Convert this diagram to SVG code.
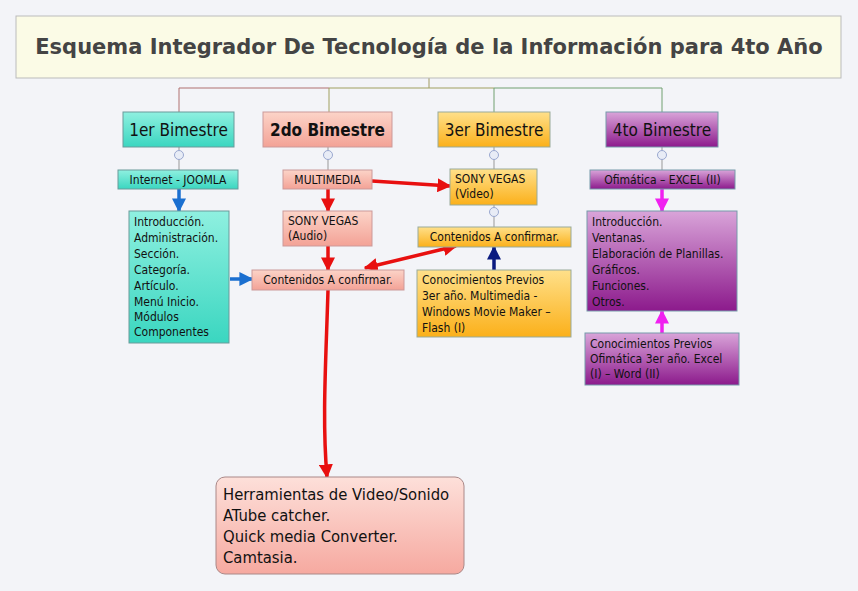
<svg xmlns="http://www.w3.org/2000/svg" width="858" height="591" viewBox="0 0 858 591">
<defs>
<style>
text{font-family:"DejaVu Sans Condensed","DejaVu Sans",sans-serif;font-size:12px;fill:#111}
.bim{font-size:17px}
.tl{fill:none;stroke-width:1}
.ar{fill:none;stroke-width:3.5}
.cc{fill:#e8ecf6;stroke:#9aa8d0;stroke-width:1}
</style>
<linearGradient id="gc" x1="0" y1="0" x2="0" y2="1"><stop offset="0" stop-color="#8ff0e0"/><stop offset="1" stop-color="#3ad6c0"/></linearGradient>
<linearGradient id="gr" x1="0" y1="0" x2="0" y2="1"><stop offset="0" stop-color="#fcd4c8"/><stop offset="1" stop-color="#f3a296"/></linearGradient>
<linearGradient id="go" x1="0" y1="0" x2="0" y2="1"><stop offset="0" stop-color="#ffe08a"/><stop offset="1" stop-color="#fbb01a"/></linearGradient>
<linearGradient id="gp" x1="0" y1="0" x2="0" y2="1"><stop offset="0" stop-color="#d9a4d9"/><stop offset="1" stop-color="#8c1a8c"/></linearGradient>
<linearGradient id="gh" x1="0" y1="0" x2="0" y2="1"><stop offset="0" stop-color="#fde0da"/><stop offset="1" stop-color="#f6a9a0"/></linearGradient>
<marker id="mr" viewBox="0 0 10 10" refX="9" refY="5" markerWidth="4" markerHeight="4" orient="auto-start-reverse"><path d="M0,0L10,5L0,10z" fill="#e81010"/></marker>
<marker id="mb" viewBox="0 0 10 10" refX="9" refY="5" markerWidth="4" markerHeight="4" orient="auto"><path d="M0,0L10,5L0,10z" fill="#1a6fd0"/></marker>
<marker id="mn" viewBox="0 0 10 10" refX="9" refY="5" markerWidth="4" markerHeight="4" orient="auto"><path d="M0,0L10,5L0,10z" fill="#0a1a80"/></marker>
<marker id="mm" viewBox="0 0 10 10" refX="9" refY="5" markerWidth="4" markerHeight="4" orient="auto"><path d="M0,0L10,5L0,10z" fill="#f020f0"/></marker>
</defs>
<rect width="858" height="591" fill="#f3f4f8"/>
<g id="connectors">
<path class="tl" stroke="#a09a60" d="M429,78V88"/>
<path class="tl" stroke="#b07070" d="M179,112V88H329"/>
<path class="tl" stroke="#a0a060" d="M329,112V88H494"/>
<path class="tl" stroke="#70a070" d="M494,112V88H662V112"/>
<path class="tl" stroke="#999" d="M179,147V170M328,147V170M494,147V169M494,205V227M662,147V170"/>
<circle class="cc" cx="179" cy="155" r="4.5"/><circle class="cc" cx="328" cy="155" r="4.5"/><circle class="cc" cx="494" cy="155" r="4.5"/><circle class="cc" cx="662" cy="155" r="4.5"/><circle class="cc" cx="494" cy="212" r="4.5"/>
<path class="ar" stroke="#1a6fd0" marker-end="url(#mb)" d="M179,189V211"/>
<path class="ar" stroke="#1a6fd0" marker-end="url(#mb)" d="M230,279H252"/>
<path class="ar" stroke="#e81010" marker-end="url(#mr)" d="M328,189V211"/>
<path class="ar" stroke="#e81010" marker-end="url(#mr)" d="M328,246V270"/>
<path class="ar" stroke="#e81010" marker-end="url(#mr)" d="M372,181L450,186"/>
<path class="ar" stroke="#e81010" marker-start="url(#mr)" marker-end="url(#mr)" d="M365,268L456,246"/>
<path class="ar" stroke="#e81010" marker-end="url(#mr)" d="M328,290C326,360 322,420 327,477"/>
<path class="ar" stroke="#0a1a80" marker-end="url(#mn)" d="M494,270V247"/>
<path class="ar" stroke="#f020f0" marker-end="url(#mm)" d="M662,189V211"/>
<path class="ar" stroke="#f020f0" marker-end="url(#mm)" d="M662,333V311"/>
</g>
<g id="title"><rect x="16" y="16" width="825" height="62" fill="#fbfbe6" stroke="#bbb"/><text x="429" y="54" text-anchor="middle" style="font-family:'DejaVu Sans',sans-serif;font-size:21px;font-weight:bold;fill:#444">Esquema Integrador De Tecnología de la Información para 4to Año</text></g>
<g id="b1"><rect x="123" y="112" width="111" height="35" fill="url(#gc)" stroke="#6a9a9a"/><text class="bim" x="178.5" y="136" text-anchor="middle">1er Bimestre</text></g>
<g id="b2"><rect x="263" y="112" width="129" height="35" fill="url(#gr)" stroke="#c99"/><text class="bim" x="327.5" y="136" text-anchor="middle" font-weight="bold">2do Bimestre</text></g>
<g id="b3"><rect x="438" y="112" width="112" height="35" fill="url(#go)" stroke="#9a9"/><text class="bim" x="494" y="136" text-anchor="middle">3er Bimestre</text></g>
<g id="b4"><rect x="606" y="112" width="112" height="35" fill="url(#gp)" stroke="#79a"/><text class="bim" x="662" y="136" text-anchor="middle">4to Bimestre</text></g>
<g id="joomla"><rect x="118" y="170" width="120" height="19" fill="url(#gc)" stroke="#6a9a9a"/><text x="178" y="184" text-anchor="middle">Internet - JOOMLA</text></g>
<g id="j1"><rect x="129" y="211" width="100" height="132" fill="url(#gc)" stroke="#6a9a9a"/><text x="134" y="226">Introducción.<tspan x="134" dy="16">Administración.</tspan><tspan x="134" dy="16">Sección.</tspan><tspan x="134" dy="16">Categoría.</tspan><tspan x="134" dy="16">Artículo.</tspan><tspan x="134" dy="16">Menú Inicio.</tspan><tspan x="134" dy="15">Módulos</tspan><tspan x="134" dy="15">Componentes</tspan></text></g>
<g id="multi"><rect x="283" y="170" width="89" height="19" fill="url(#gr)" stroke="#c99"/><text x="327.5" y="184" text-anchor="middle">MULTIMEDIA</text></g>
<g id="sva"><rect x="283" y="211" width="89" height="35" fill="url(#gr)" stroke="#c99"/><text x="288" y="225">SONY VEGAS<tspan x="288" dy="15">(Audio)</tspan></text></g>
<g id="c2"><rect x="252" y="270" width="152" height="20" fill="url(#gr)" stroke="#c99"/><text x="328" y="284" text-anchor="middle">Contenidos A confirmar.</text></g>
<g id="svv"><rect x="450" y="169" width="87" height="36" fill="url(#go)" stroke="#9a9"/><text x="455" y="183">SONY VEGAS<tspan x="455" dy="15">(Video)</tspan></text></g>
<g id="c3"><rect x="418" y="227" width="153" height="20" fill="url(#go)" stroke="#9a9"/><text x="494.5" y="241" text-anchor="middle">Contenidos A confirmar.</text></g>
<g id="k3"><rect x="417" y="270" width="154" height="67" fill="url(#go)" stroke="#9a9"/><text x="422" y="284">Conocimientos Previos<tspan x="422" dy="16">3er año. Multimedia -</tspan><tspan x="422" dy="16">Windows Movie Maker –</tspan><tspan x="422" dy="16">Flash (I)</tspan></text></g>
<g id="ofi"><rect x="590" y="170" width="145" height="19" fill="url(#gp)" stroke="#79a"/><text x="662.5" y="184" text-anchor="middle">Ofimática – EXCEL (II)</text></g>
<g id="o1"><rect x="587" y="211" width="150" height="100" fill="url(#gp)" stroke="#79a"/><text x="592" y="226">Introducción.<tspan x="592" dy="16">Ventanas.</tspan><tspan x="592" dy="16">Elaboración de Planillas.</tspan><tspan x="592" dy="16">Gráficos.</tspan><tspan x="592" dy="16">Funciones.</tspan><tspan x="592" dy="16">Otros.</tspan></text></g>
<g id="k4"><rect x="585" y="333" width="154" height="52" fill="url(#gp)" stroke="#79a"/><text x="590" y="348">Conocimientos Previos<tspan x="590" dy="15">Ofimática 3er año. Excel</tspan><tspan x="590" dy="15">(I) – Word (II)</tspan></text></g>
<g id="herr"><rect x="216" y="477" width="248" height="97" rx="9" fill="url(#gh)" stroke="#a88"/><text x="223" y="500" style="font-size:16.5px">Herramientas de Video/Sonido<tspan x="223" dy="21">ATube catcher.</tspan><tspan x="223" dy="21">Quick media Converter.</tspan><tspan x="223" dy="21">Camtasia.</tspan></text></g>
</svg>
